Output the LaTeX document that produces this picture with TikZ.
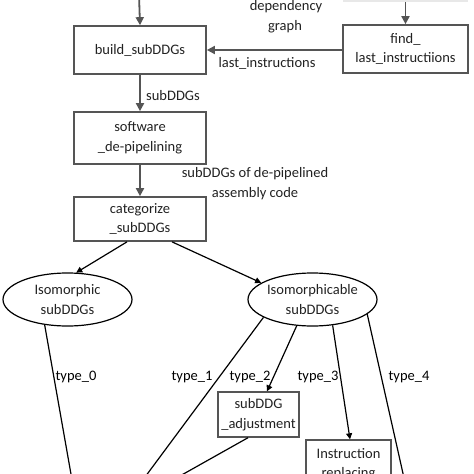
\documentclass[tikz,border=0pt]{standalone}
\usepackage{fontspec}
\setmainfont{Carlito}
\usetikzlibrary{arrows.meta,shapes.geometric}
\definecolor{boxgray}{HTML}{555555}
\definecolor{txt}{HTML}{222222}
\begin{document}
\begin{tikzpicture}[x=1pt,y=-1pt,
  every node/.style={text=txt,font=\fontsize{14.5}{19.5}\selectfont,align=center,inner sep=0pt},
  gbox/.style={draw=boxgray,line width=1.7pt,rectangle},
  sbox/.style={draw=boxgray,line width=1.4pt,rectangle},
  oval/.style={draw=black,line width=1.2pt,ellipse},
  garrow/.style={draw=boxgray,line width=1.8pt,-{Triangle[length=8pt,width=8pt]}},
  barrow/.style={draw=black,line width=1.2pt,-{Triangle[length=6pt,width=6pt]}},
  bline/.style={draw=black,line width=1.2pt},
  lbl/.style={text=txt}
]
\useasboundingbox (0,0) rectangle (474,474);
\clip (0,0) rectangle (474,474);
\fill[white] (0,0) rectangle (474,474);
% top partial box
\node[fill=gray!18,minimum width=125pt,minimum height=24pt] (prev) at (405.5,-10) {};
\coordinate (topin) at (139,-5);
% boxes
\node[gbox,minimum width=132pt,minimum height=48pt] (build) at (140,50) {build\_subDDGs};
\node[gbox,minimum width=125pt,minimum height=48pt] (find) at (405.5,49) {find\_\\last\_instructiions};
\node[gbox,minimum width=132pt,minimum height=52pt] (soft) at (140,138) {software\\\_de-pipelining};
\node[gbox,minimum width=132pt,minimum height=44pt] (cat) at (140,219) {categorize\\\_subDDGs};
\node[oval,minimum width=129pt,minimum height=53pt] (iso) at (67.5,299.5) {Isomorphic\\subDDGs};
\node[oval,minimum width=129pt,minimum height=53pt] (isoc) at (312.5,299.5) {Isomorphicable\\subDDGs};
\node[sbox,minimum width=81pt,minimum height=45pt] (adj) at (258.5,414.5) {subDDG\\\_adjustment};
\node[sbox,minimum width=85pt,minimum height=48pt] (instr) at (348.5,464) {Instruction\\replacing};
% free ends below the frame
\coordinate (e0) at (73.8,490);
\coordinate (e1) at (135.4,490);
\coordinate (e4) at (406.7,490);
\coordinate (ea) at (155,490);
% top connectors
\draw[garrow] (topin) -- (build.north);
\draw[garrow] (prev.south) -- (find.north);
\draw[garrow] (find.west |- build.east) -- (build.east);
\draw[garrow] (build.south) -- (soft.north);
\draw[garrow] (soft.south) -- (cat.north);
% labels top
\node[lbl] (ldep) at (286,7) {dependency};
\node[lbl] (lgraph) at (285,27) {graph};
\node[lbl] (llast) at (267,63) {last\_instructions};
\node[lbl] (lsub) at (173,96) {subDDGs};
\node[lbl] (lsubde1) at (255,174) {subDDGs of de-pipelined};
\node[lbl] (lsubde2) at (255,194) {assembly code};
% lower connectors
\draw[barrow] ([xshift=-13pt]cat.south) -- (iso.72);
\draw[barrow] ([xshift=32pt]cat.south) -- (isoc.162);
\draw[bline] (iso.228) -- (e0);
\draw[bline] (isoc.200) -- (e1);
\draw[barrow] (isoc.239) -- ([xshift=8.5pt]adj.north);
\draw[barrow] (isoc.308) -- ([xshift=1.5pt]instr.north);
\draw[bline] (isoc.345) -- (e4);
\draw[bline] ([xshift=-10.5pt]adj.south) -- (ea);
% type labels
\node[text=black] (t0) at (76,377) {type\_0};
\node[text=black] (t1) at (192,377) {type\_1};
\node[text=black] (t2) at (250,377) {type\_2};
\node[text=black] (t3) at (318,377) {type\_3};
\node[text=black] (t4) at (409,377) {type\_4};
\end{tikzpicture}
\end{document}
